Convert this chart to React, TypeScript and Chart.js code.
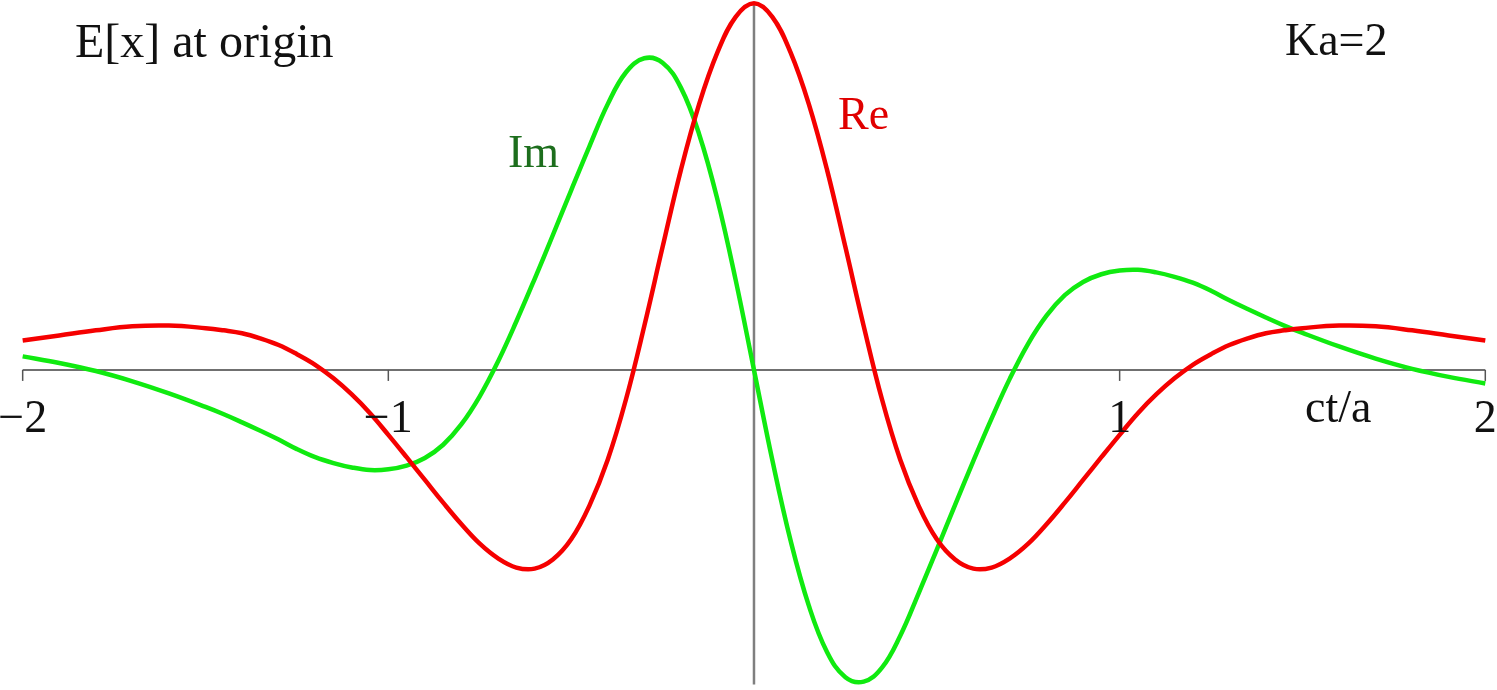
import React, { useEffect, useRef } from 'react';
import { Chart, registerables } from 'chart.js';

Chart.register(...registerables);

// ct/a sample positions
const ctOverA = [
  -2.0, -1.9, -1.8, -1.7, -1.6, -1.5, -1.45, -1.4, -1.35, -1.3, -1.25, -1.2, -1.15, -1.1, -1.05,
  -1.0, -0.95, -0.9, -0.85, -0.8, -0.75, -0.7, -0.65, -0.6, -0.55,
  -0.5, -0.45, -0.4, -0.35, -0.3, -0.25, -0.2, -0.15, -0.1, -0.05,
  0,
  0.05, 0.1, 0.15, 0.2, 0.25, 0.3, 0.35, 0.4, 0.45, 0.5,
  0.55, 0.6, 0.65, 0.7, 0.75, 0.8, 0.85, 0.9, 0.95, 1.0,
  1.05, 1.1, 1.15, 1.2, 1.25, 1.3, 1.35, 1.4, 1.45, 1.5, 1.6, 1.7, 1.8, 1.9, 2.0,
];

// Re E[x] (red)
const reValues = [
  0.08, 0.094, 0.108, 0.119, 0.121, 0.114, 0.108, 0.1, 0.086, 0.068, 0.043, 0.014, -0.023, -0.067, -0.118,
  -0.177, -0.238, -0.3, -0.362, -0.421, -0.474, -0.514, -0.539, -0.542, -0.517,
  -0.462, -0.37, -0.245, -0.08, 0.12, 0.335, 0.545, 0.725, 0.866, 0.963,
  1.0,
  0.963, 0.866, 0.725, 0.545, 0.335, 0.12, -0.08, -0.245, -0.37, -0.462,
  -0.517, -0.542, -0.539, -0.514, -0.474, -0.421, -0.362, -0.3, -0.238, -0.177,
  -0.118, -0.067, -0.023, 0.014, 0.043, 0.068, 0.086, 0.1, 0.108, 0.114, 0.121, 0.119, 0.108, 0.094, 0.08,
];

// Im E[x] (green)
const imValues = [
  0.037, 0.019, -0.003, -0.031, -0.064, -0.101, -0.121, -0.143, -0.166, -0.19, -0.216, -0.238, -0.254, -0.266, -0.273,
  -0.271, -0.261, -0.24, -0.204, -0.148, -0.072, 0.023, 0.132, 0.248, 0.368,
  0.49, 0.61, 0.725, 0.812, 0.85, 0.838, 0.77, 0.643, 0.465, 0.245,
  0,
  -0.245, -0.465, -0.643, -0.77, -0.838, -0.85, -0.812, -0.725, -0.61, -0.49,
  -0.368, -0.248, -0.132, -0.023, 0.072, 0.148, 0.204, 0.24, 0.261, 0.271,
  0.273, 0.266, 0.254, 0.238, 0.216, 0.19, 0.166, 0.143, 0.121, 0.101, 0.064, 0.031, 0.003, -0.019, -0.037,
];

const tickValues = [-2, -1, 1, 2];
const tickLabels = ['\u22122', '\u22121', '1', '2'];
const axisTitle = 'ct/a';
const chartTitle = 'E[x] at origin';
const paramLabel = 'Ka=2';
const seriesNames = ['Re', 'Im'];

const FONT = '"Liberation Serif", "Times New Roman", serif';

const overlayPlugin = {
  id: 'overlay',
  beforeDatasetsDraw(chart: any) {
    const { ctx, scales } = chart;
    const xs = scales.x;
    const ys = scales.y;
    const y0 = ys.getPixelForValue(0);
    const x0 = xs.getPixelForValue(0);
    ctx.save();
    // vertical axis
    ctx.strokeStyle = '#7f7f7f';
    ctx.lineWidth = 2.5;
    ctx.beginPath();
    ctx.moveTo(x0, ys.getPixelForValue(1.0));
    ctx.lineTo(x0, ys.getPixelForValue(-0.858));
    ctx.stroke();
    // horizontal axis
    ctx.strokeStyle = '#404040';
    ctx.lineWidth = 1.5;
    ctx.beginPath();
    ctx.moveTo(xs.getPixelForValue(-2), y0);
    ctx.lineTo(xs.getPixelForValue(2), y0);
    ctx.stroke();
    // ticks
    ctx.strokeStyle = '#555';
    ctx.lineWidth = 1.5;
    tickValues.forEach((v) => {
      const px = xs.getPixelForValue(v);
      ctx.beginPath();
      ctx.moveTo(px, y0);
      ctx.lineTo(px, y0 + 11);
      ctx.stroke();
    });
    ctx.restore();
  },
  afterDatasetsDraw(chart: any) {
    const { ctx, scales } = chart;
    const xs = scales.x;
    const ys = scales.y;
    const y0 = ys.getPixelForValue(0);
    ctx.save();
    ctx.textBaseline = 'alphabetic';
    ctx.font = `46px ${FONT}`;
    ctx.fillStyle = '#111';
    ctx.textAlign = 'center';
    tickValues.forEach((v, i) => {
      ctx.fillText(tickLabels[i], xs.getPixelForValue(v), y0 + 62);
    });
    ctx.textAlign = 'left';
    ctx.fillText(axisTitle, xs.getPixelForValue(1.507), y0 + 52);
    ctx.font = `48px ${FONT}`;
    ctx.fillText(chartTitle, xs.getPixelForValue(-1.857), ys.getPixelForValue(0.854));
    ctx.font = `46px ${FONT}`;
    ctx.fillText(paramLabel, xs.getPixelForValue(1.452), ys.getPixelForValue(0.859));
    ctx.fillStyle = '#e00000';
    ctx.fillText(seriesNames[0], xs.getPixelForValue(0.23), ys.getPixelForValue(0.657));
    ctx.fillStyle = '#1d6e1d';
    ctx.fillText(seriesNames[1], xs.getPixelForValue(-0.673), ys.getPixelForValue(0.554));
    ctx.restore();
  },
};

export default function App() {
  const canvasRef = useRef<HTMLCanvasElement | null>(null);

  useEffect(() => {
    const canvas = canvasRef.current;
    if (!canvas) return;
    const chart = new Chart(canvas, {
      type: 'line',
      data: {
        datasets: [
          {
            label: seriesNames[0],
            data: ctOverA.map((x, i) => ({ x, y: reValues[i] })),
            borderColor: '#f50000',
            borderWidth: 4.5,
            pointRadius: 0,
            tension: 0.4,
            fill: false,
            clip: false as any,
          },
          {
            label: seriesNames[1],
            data: ctOverA.map((x, i) => ({ x, y: imValues[i] })),
            borderColor: '#10ea10',
            borderWidth: 4.5,
            pointRadius: 0,
            tension: 0.4,
            fill: false,
            clip: false as any,
          },
        ],
      },
      options: {
        animation: false,
        responsive: false,
        maintainAspectRatio: false,
        layout: { padding: 0 },
        plugins: {
          legend: { display: false },
          tooltip: { enabled: false },
        },
        scales: {
          x: { type: 'linear', min: -2.062, max: 2.032, display: false },
          y: { type: 'linear', min: -0.873, max: 1.009, display: false },
        },
      },
      plugins: [overlayPlugin],
    });
    return () => chart.destroy();
  }, []);

  return (
    <div style={{ position: 'fixed', left: 0, top: 0, width: 1497, height: 690, background: '#fff' }}>
      <canvas ref={canvasRef} width={1497} height={690} style={{ display: 'block', width: 1497, height: 690 }} />
    </div>
  );
}
